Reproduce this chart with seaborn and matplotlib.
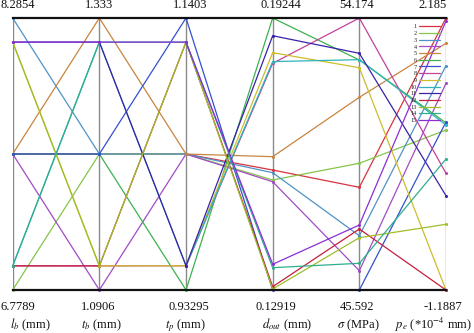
import numpy as np
import pandas as pd
import matplotlib
matplotlib.use("Agg")
import matplotlib.pyplot as plt
from matplotlib.lines import Line2D
import seaborn as sns

# Design runs (central composite design on l_b, t_b, t_p) and responses
runs = list(range(1, 16))
l_b = [7.5322, 6.7789, 8.2854, 7.5322, 7.5322, 7.5322, 7.5322,
       6.9126, 8.1518, 6.9126, 8.1518, 6.9126, 8.1518, 6.9126, 8.1518]
t_b = [1.2118, 1.2118, 1.2118, 1.0906, 1.3330, 1.2118, 1.2118,
       1.1121, 1.1121, 1.3115, 1.3115, 1.1121, 1.1121, 1.3115, 1.3115]
t_p = [1.0366, 1.0366, 1.0366, 1.0366, 1.0366, 0.93295, 1.1403,
       0.9514, 0.9514, 0.9514, 0.9514, 1.1219, 1.1219, 1.1219, 1.1219]
d_out = [0.15709, 0.15477, 0.15647, 0.15437, 0.16019, 0.19244, 0.12919,
         0.18190, 0.18437, 0.18230, 0.18832, 0.12996, 0.12942, 0.13438, 0.13517]
sigma = [48.832, 49.590, 47.305, 46.201, 51.672, 52.849, 45.592,
         54.174, 52.606, 52.860, 53.060, 47.517, 47.242, 46.434, 47.643]
p_e = [2.185, 0.7958, 1.5933, 1.3751, 1.8712, 0.8826, 0.8951,
       0.2588, -1.1887, 0.8579, -0.0191, -1.1887, -0.3738, 0.4361, 2.1478]

axis_min = [6.7789, 1.0906, 0.93295, 0.12919, 45.592, -1.1887]
axis_max = [8.2854, 1.333, 1.1403, 0.19244, 54.174, 2.185]
top_labels = ["8.2854", "1.333", "1.1403", "0.19244", "54.174", "2.185"]
bottom_labels = ["6.7789", "1.0906", "0.93295", "0.12919", "45.592", "-1.1887"]
axis_names = [r"$l_b$ (mm)", r"$t_b$ (mm)", r"$t_p$ (mm)",
              r"$d_{out}$ (mm)", r"$\sigma$ (MPa)", r"$p_e$ (*10$^{-4}$ mm)"]

run_colors = ["#d8333c", "#86c44a", "#4f93c6", "#a24bc4", "#c9843e",
              "#3db24e", "#3350cf", "#c2429c", "#cdbd2c", "#2fb3bb",
              "#3a22a8", "#c41f3f", "#9fbe2a", "#2fae8e", "#8a2fd6"]

sns.set_theme(style="white")
plt.rcParams["font.family"] = ["Liberation Serif", "DejaVu Serif"]
plt.rcParams["mathtext.fontset"] = "stix"

columns = [l_b, t_b, t_p, d_out, sigma, p_e]
records = []
for i, r in enumerate(runs):
    for k, col in enumerate(columns):
        scaled = (col[i] - axis_min[k]) / (axis_max[k] - axis_min[k])
        records.append({"run": str(r), "axis": k, "scaled": scaled})
df = pd.DataFrame(records)

W, H = 474, 333
fig = plt.figure(figsize=(W / 100, H / 100), dpi=100)
x0, x1, ytop, ybot = 12.7, 446.0, 18.0, 290.0
ax = fig.add_axes([x0 / W, 1 - ybot / H, (x1 - x0) / W, (ybot - ytop) / H])

# vertical coordinate axes
for k in range(6):
    ax.axvline(k, color="#8a8a8a", lw=1.0, zorder=1)

palette = dict(zip([str(r) for r in runs], run_colors))
sns.lineplot(data=df, x="axis", y="scaled", hue="run",
             hue_order=[str(r) for r in runs], palette=palette,
             estimator=None, sort=False, lw=0.9, marker="o",
             markersize=2.2, markeredgewidth=0, legend=False, ax=ax,
             zorder=2, clip_on=False)

ax.set_xlim(0, 5)
ax.set_ylim(0, 1)
ax.set_xticks([])
ax.set_yticks([])
ax.set_xlabel("")
ax.set_ylabel("")
for side in ["left", "right"]:
    ax.spines[side].set_visible(False)
for side in ["top", "bottom"]:
    ax.spines[side].set_color("#111111")
    ax.spines[side].set_linewidth(1.6)
    ax.spines[side].set_zorder(3)

# text anchors in pixels: (x, alignment)
top_pos = [(0.5, "left"), (99.3, "center"), (190, "center"),
           (281, "center"), (357, "center"), (447, "right")]
bottom_pos = [(0.5, "left"), (98.3, "center"), (188.7, "center"),
              (276, "center"), (357, "center"), (443, "center")]
name_pos = [(9.5, "left"), (101, "center"), (185, "center"),
            (262, "left"), (358, "center"), (395, "left")]

for k in range(6):
    x, ha = top_pos[k]
    fig.text(x / W, 1 - 8.5 / H, top_labels[k], ha=ha, va="baseline",
             fontsize=9, color="#111111")
    x, ha = bottom_pos[k]
    fig.text(x / W, 1 - 310 / H, bottom_labels[k], ha=ha, va="baseline",
             fontsize=9, color="#111111")
    x, ha = name_pos[k]
    fig.text(x / W, 1 - 328.5 / H, axis_names[k], ha=ha, va="baseline",
             fontsize=9, color="#111111")

handles = [Line2D([0], [0], color=c, lw=0.9) for c in run_colors]
fig.legend(handles, [str(r) for r in runs], loc="upper right",
           bbox_to_anchor=(443 / W, 1 - 21 / H), frameon=False,
           fontsize=4.5, markerfirst=False, handlelength=3.3,
           handletextpad=0.4, labelspacing=0.21, borderpad=0)

fig.savefig("out.png", dpi=100)
